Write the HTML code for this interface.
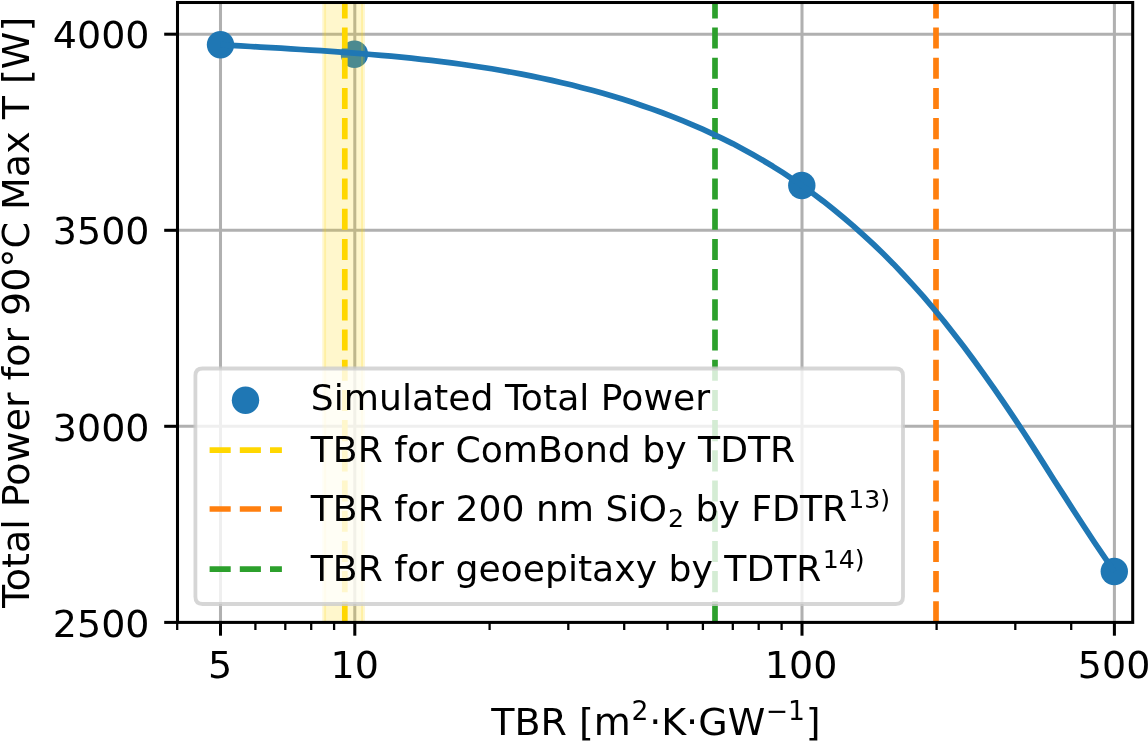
<!DOCTYPE html>
<html lang="en"><head><meta charset="utf-8"><title>TBR vs Total Power</title>
<style>
html,body{margin:0;padding:0;background:#fff;}
svg{display:block;}
text{font-family:"DejaVu Sans","Liberation Sans",sans-serif;fill:#000;}
.tk{font-size:38px;}
.lg{font-size:36.15px;}
.sup{font-size:25.2px;}
.sup2{font-size:26.6px;}
</style></head><body>
<svg width="1148" height="741" viewBox="0 0 1148 741">
<rect width="1148" height="741" fill="#fff"/>
<defs><clipPath id="ax"><rect x="177.5" y="2.5" width="955.2" height="619.9"/></clipPath></defs>

<g clip-path="url(#ax)">
<g stroke="#b0b0b0" stroke-width="3.04" fill="none">
<line x1="220.5" y1="2.5" x2="220.5" y2="622.4"/>
<line x1="354.8" y1="2.5" x2="354.8" y2="622.4"/>
<line x1="802.0" y1="2.5" x2="802.0" y2="622.4"/>
<line x1="1114.4" y1="2.5" x2="1114.4" y2="622.4"/>
<line x1="177.5" y1="426.3" x2="1132.7" y2="426.3"/>
<line x1="177.5" y1="230.3" x2="1132.7" y2="230.3"/>
<line x1="177.5" y1="34.2" x2="1132.7" y2="34.2"/>
</g>
<g fill="#1f77b4">
<circle cx="220.5" cy="44.7" r="13.7"/>
<circle cx="354.4" cy="54.2" r="13.7"/>
<circle cx="801.8" cy="185.5" r="13.7"/>
<circle cx="1114.3" cy="571.5" r="13.7"/>
</g>
<rect x="324.2" y="-7.5" width="38.8" height="639.9" fill="#ffd700" fill-opacity="0.2" stroke="#ffd700" stroke-opacity="0.2" stroke-width="3.8"/>
<line x1="344.8" y1="622.4" x2="344.8" y2="2.5" stroke="#ffd700" stroke-width="5.7" stroke-dasharray="21.1 9.1" fill="none"/>
<line x1="936.0" y1="622.4" x2="936.0" y2="2.5" stroke="#ff7f0e" stroke-width="5.7" stroke-dasharray="21.1 9.1" fill="none"/>
<line x1="715.0" y1="622.4" x2="715.0" y2="2.5" stroke="#2ca02c" stroke-width="5.7" stroke-dasharray="21.1 9.1" fill="none"/>
<path d="M220.5 44.7 L230.5 45.3 L240.6 45.9 L250.6 46.5 L260.7 47.1 L270.7 47.6 L280.8 48.2 L290.8 48.8 L300.8 49.5 L310.9 50.1 L320.9 50.7 L331.0 51.4 L341.0 52.1 L351.1 52.9 L361.1 53.7 L371.1 54.5 L381.2 55.3 L391.2 56.2 L401.3 57.2 L411.3 58.2 L421.4 59.3 L431.4 60.4 L441.4 61.6 L451.5 62.9 L461.5 64.3 L471.6 65.7 L481.6 67.2 L491.7 68.8 L501.7 70.5 L511.7 72.3 L521.8 74.1 L531.8 76.1 L541.9 78.2 L551.9 80.4 L562.0 82.7 L572.0 85.1 L582.0 87.7 L592.1 90.3 L602.1 93.1 L612.2 96.1 L622.2 99.1 L632.3 102.3 L642.3 105.7 L652.3 109.1 L662.4 112.8 L672.4 116.6 L682.5 120.6 L692.5 124.8 L702.5 129.2 L712.6 133.8 L722.6 138.6 L732.7 143.6 L742.7 148.9 L752.8 154.5 L762.8 160.3 L772.8 166.3 L782.9 172.7 L792.9 179.3 L803.0 186.2 L813.0 193.5 L823.1 201.1 L833.1 209.0 L843.1 217.2 L853.2 225.8 L863.2 234.8 L873.3 244.1 L883.3 253.8 L893.4 263.9 L903.4 274.5 L913.4 285.4 L923.5 296.7 L933.5 308.5 L943.6 320.7 L953.6 333.4 L963.7 346.5 L973.7 360.0 L983.7 373.8 L993.8 388.1 L1003.8 402.7 L1013.9 417.6 L1023.9 432.8 L1034.0 448.4 L1044.0 464.1 L1054.0 479.9 L1064.1 495.6 L1074.1 511.3 L1084.2 526.7 L1094.2 542.0 L1104.3 556.9 L1114.3 571.5" fill="none" stroke="#1f77b4" stroke-width="5.7" stroke-linejoin="round" stroke-linecap="butt"/>
</g>
<g stroke="#000" stroke-width="3.04" fill="none">
<line x1="220.5" y1="622.4" x2="220.5" y2="635.6999999999999"/>
<line x1="354.8" y1="622.4" x2="354.8" y2="635.6999999999999"/>
<line x1="802.0" y1="622.4" x2="802.0" y2="635.6999999999999"/>
<line x1="1114.4" y1="622.4" x2="1114.4" y2="635.6999999999999"/>
<line x1="177.5" y1="622.4" x2="164.2" y2="622.4"/>
<line x1="177.5" y1="426.3" x2="164.2" y2="426.3"/>
<line x1="177.5" y1="230.3" x2="164.2" y2="230.3"/>
<line x1="177.5" y1="34.2" x2="164.2" y2="34.2"/>
</g>
<g stroke="#000" stroke-width="2.28" fill="none">
<line x1="177.2" y1="622.4" x2="177.2" y2="630.0"/>
<line x1="255.4" y1="622.4" x2="255.4" y2="630.0"/>
<line x1="285.3" y1="622.4" x2="285.3" y2="630.0"/>
<line x1="311.2" y1="622.4" x2="311.2" y2="630.0"/>
<line x1="334.1" y1="622.4" x2="334.1" y2="630.0"/>
<line x1="489.6" y1="622.4" x2="489.6" y2="630.0"/>
<line x1="568.3" y1="622.4" x2="568.3" y2="630.0"/>
<line x1="624.2" y1="622.4" x2="624.2" y2="630.0"/>
<line x1="667.5" y1="622.4" x2="667.5" y2="630.0"/>
<line x1="702.9" y1="622.4" x2="702.9" y2="630.0"/>
<line x1="732.8" y1="622.4" x2="732.8" y2="630.0"/>
<line x1="758.7" y1="622.4" x2="758.7" y2="630.0"/>
<line x1="781.6" y1="622.4" x2="781.6" y2="630.0"/>
<line x1="936.6" y1="622.4" x2="936.6" y2="630.0"/>
<line x1="1015.3" y1="622.4" x2="1015.3" y2="630.0"/>
<line x1="1071.2" y1="622.4" x2="1071.2" y2="630.0"/>
</g>
<rect x="177.5" y="2.5" width="955.2" height="619.9" fill="none" stroke="#000" stroke-width="3.04" stroke-linejoin="miter"/>
<text class="tk" x="149.5" y="636.9" text-anchor="end">2500</text>
<text class="tk" x="149.5" y="440.6" text-anchor="end">3000</text>
<text class="tk" x="149.5" y="244.4" text-anchor="end">3500</text>
<text class="tk" x="149.5" y="48.1" text-anchor="end">4000</text>
<text class="tk" x="220.1" y="677.9" text-anchor="middle">5</text>
<text class="tk" x="354.7" y="677.9" text-anchor="middle">10</text>
<text class="tk" x="801.1" y="677.9" text-anchor="middle">100</text>
<text class="tk" x="1114.1" y="677.9" text-anchor="middle">500</text>
<text class="tk" transform="translate(29.4 312.4) rotate(-90)" text-anchor="middle">Total Power for 90°C Max T [W]</text>
<text class="tk" x="491.2" y="734.9">TBR [m<tspan class="sup2" dy="-14.6" dx="0.8">2</tspan><tspan dy="14.6" dx="0.6">·K·GW</tspan><tspan class="sup2" dy="-14.6" dx="0.4">−1</tspan><tspan dy="14.6" dx="1">]</tspan></text>
<path d="M202.6 368.5 L895.8 368.5 Q903.0 368.5 903.0 375.7 L903.0 596.8 Q903.0 604.0 895.8 604.0 L202.6 604.0 Q195.4 604.0 195.4 596.8 L195.4 375.7 Q195.4 368.5 202.6 368.5 Z" fill="#fff" fill-opacity="0.8" stroke="#ccc" stroke-opacity="0.8" stroke-width="3.8"/>
<circle cx="245.5" cy="400.3" r="13.7" fill="#1f77b4"/>
<line x1="209.6" y1="450.1" x2="281.9" y2="450.1" stroke="#ffd700" stroke-width="5.7" stroke-dasharray="21.1 9.1"/>
<line x1="209.6" y1="509.0" x2="281.9" y2="509.0" stroke="#ff7f0e" stroke-width="5.7" stroke-dasharray="21.1 9.1"/>
<line x1="209.6" y1="569.2" x2="281.9" y2="569.2" stroke="#2ca02c" stroke-width="5.7" stroke-dasharray="21.1 9.1"/>
<text class="lg" x="310.8" y="409.6">Simulated Total Power</text>
<text class="lg" x="310.8" y="462.0">TBR for ComBond by TDTR</text>
<text class="lg" x="310.8" y="520.7">TBR for 200 nm SiO<tspan class="sup" dy="5.8" dx="1">2</tspan><tspan dy="-5.8"> by FDTR</tspan><tspan class="sup" dy="-13.1" dx="1.2">13)</tspan></text>
<text class="lg" x="310.8" y="580.6">TBR for geoepitaxy by TDTR<tspan class="sup" dy="-13.1" dx="1.2">14)</tspan></text>
</svg></body></html>
